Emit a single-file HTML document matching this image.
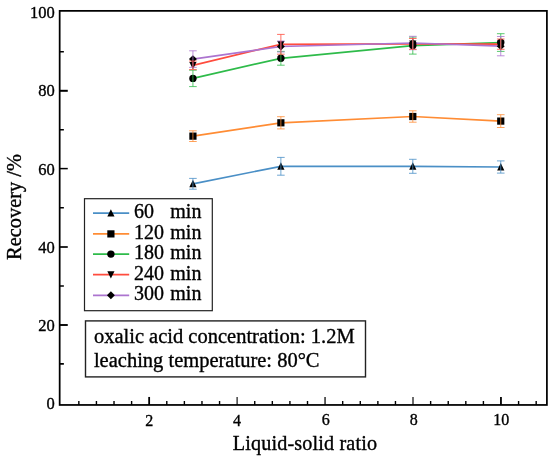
<!DOCTYPE html>
<html lang="en"><head><meta charset="utf-8"><title>Recovery vs liquid-solid ratio</title>
<style>
html,body{margin:0;padding:0;background:#fff;}
body{width:550px;height:458px;overflow:hidden;}
svg{display:block;}
text{font-family:"Liberation Serif","Times New Roman",Times,serif;fill:#000;stroke:#000;stroke-width:0.35px;}
.tk{font-size:16.5px;}
.lb{font-size:20px;}
.an{font-size:20.5px;}
</style></head><body>
<svg width="550" height="458" viewBox="0 0 550 458">
<rect x="0" y="0" width="550" height="458" fill="#fff"/>
<g fill="none" stroke-width="1.7" stroke-linejoin="round">
<polyline points="192.93,183.80 280.88,166.30 412.80,166.30 500.75,167.00" stroke="#4a8fc6"/>
<polyline points="192.93,136.15 280.88,122.80 412.80,116.50 500.75,121.10" stroke="#ff8c34"/>
<polyline points="192.93,78.40 280.88,58.30 412.80,45.60 500.75,42.55" stroke="#2ebb4a"/>
<polyline points="192.93,65.30 280.88,44.30 412.80,43.90 500.75,44.15" stroke="#ff4c3e"/>
<polyline points="192.93,59.10 280.88,46.50 412.80,43.00 500.75,46.15" stroke="#ac74cf"/>
</g>
<g>
<polygon points="192.93,179.80 196.53,187.20 189.33,187.20" fill="#000"/>
<polygon points="280.88,162.30 284.48,169.70 277.27,169.70" fill="#000"/>
<polygon points="412.80,162.30 416.40,169.70 409.20,169.70" fill="#000"/>
<polygon points="500.75,163.00 504.35,170.40 497.15,170.40" fill="#000"/>
<rect x="189.33" y="132.55" width="7.20" height="7.20" fill="#000"/>
<rect x="277.27" y="119.20" width="7.20" height="7.20" fill="#000"/>
<rect x="409.20" y="112.90" width="7.20" height="7.20" fill="#000"/>
<rect x="497.15" y="117.50" width="7.20" height="7.20" fill="#000"/>
<circle cx="192.93" cy="78.40" r="3.70" fill="#000"/>
<circle cx="280.88" cy="58.30" r="3.70" fill="#000"/>
<circle cx="412.80" cy="45.60" r="3.70" fill="#000"/>
<circle cx="500.75" cy="42.55" r="3.70" fill="#000"/>
<polygon points="192.93,69.30 196.53,61.90 189.33,61.90" fill="#000"/>
<polygon points="280.88,48.30 284.48,40.90 277.27,40.90" fill="#000"/>
<polygon points="412.80,47.90 416.40,40.50 409.20,40.50" fill="#000"/>
<polygon points="500.75,48.15 504.35,40.75 497.15,40.75" fill="#000"/>
<polygon points="192.93,55.15 196.88,59.10 192.93,63.05 188.98,59.10" fill="#000"/>
<polygon points="280.88,42.55 284.82,46.50 280.88,50.45 276.93,46.50" fill="#000"/>
<polygon points="412.80,39.05 416.75,43.00 412.80,46.95 408.85,43.00" fill="#000"/>
<polygon points="500.75,42.20 504.70,46.15 500.75,50.10 496.80,46.15" fill="#000"/>
</g>
<g fill="none" stroke-width="0.8">
<path d="M192.93,178.40V189.20M189.12,178.40H196.73M189.12,189.20H196.73M280.88,157.40V175.20M277.07,157.40H284.68M277.07,175.20H284.68M412.80,159.30V173.30M409.00,159.30H416.60M409.00,173.30H416.60M500.75,160.90V173.10M496.95,160.90H504.55M496.95,173.10H504.55" stroke="#4a8fc6"/>
<path d="M192.93,130.80V141.50M189.12,130.80H196.73M189.12,141.50H196.73M280.88,116.70V128.90M277.07,116.70H284.68M277.07,128.90H284.68M412.80,110.80V122.20M409.00,110.80H416.60M409.00,122.20H416.60M500.75,114.70V127.50M496.95,114.70H504.55M496.95,127.50H504.55" stroke="#ff8c34"/>
<path d="M192.93,70.20V86.60M189.12,70.20H196.73M189.12,86.60H196.73M280.88,51.40V65.20M277.07,51.40H284.68M277.07,65.20H284.68M412.80,37.10V54.10M409.00,37.10H416.60M409.00,54.10H416.60M500.75,33.70V51.40M496.95,33.70H504.55M496.95,51.40H504.55" stroke="#2ebb4a"/>
<path d="M192.93,50.80V67.40M189.12,50.80H196.73M189.12,67.40H196.73M280.88,41.00V52.00M277.07,41.00H284.68M277.07,52.00H284.68M412.80,36.30V49.70M409.00,36.30H416.60M409.00,49.70H416.60M500.75,36.50V55.80M496.95,36.50H504.55M496.95,55.80H504.55" stroke="#ac74cf"/>
<path d="M192.93,61.00V69.60M189.12,61.00H196.73M189.12,69.60H196.73M280.88,34.40V54.20M277.07,34.40H284.68M277.07,54.20H284.68M412.80,38.50V49.30M409.00,38.50H416.60M409.00,49.30H416.60M500.75,39.00V49.30M496.95,39.00H504.55M496.95,49.30H504.55" stroke="#ff4c3e"/>
</g>
<rect x="59.67" y="10.87" width="487.23" height="394.08" fill="none" stroke="#000" stroke-width="1.75"/>
<path d="M78.84,404.95V400.95M96.43,404.95V400.95M114.02,404.95V400.95M131.61,404.95V400.95M166.79,404.95V400.95M184.38,404.95V400.95M201.97,404.95V400.95M219.56,404.95V400.95M254.74,404.95V400.95M272.33,404.95V400.95M289.92,404.95V400.95M307.51,404.95V400.95M342.69,404.95V400.95M360.28,404.95V400.95M377.87,404.95V400.95M395.46,404.95V400.95M430.64,404.95V400.95M448.23,404.95V400.95M465.82,404.95V400.95M483.41,404.95V400.95M518.59,404.95V400.95M536.18,404.95V400.95" stroke="#000" stroke-width="1.4" fill="none"/>
<path d="M149.15,404.95V396.95" stroke="#000" stroke-width="1.8" fill="none"/>
<path d="M237.10,404.95V396.95" stroke="#000" stroke-width="1.1" fill="none"/>
<path d="M325.05,404.95V396.95" stroke="#000" stroke-width="1.25" fill="none"/>
<path d="M413.00,404.95V396.95" stroke="#000" stroke-width="1.15" fill="none"/>
<path d="M500.95,404.95V396.95" stroke="#000" stroke-width="1.8" fill="none"/>
<path d="M59.67,363.90H63.87M59.67,286.00H63.87M59.67,207.80H63.87M59.67,129.70H63.87M59.67,51.80H63.87" stroke="#000" stroke-width="1.6" fill="none"/>
<path d="M59.67,325.00H67.77" stroke="#000" stroke-width="1.9" fill="none"/>
<path d="M59.67,247.00H67.77" stroke="#000" stroke-width="1.7" fill="none"/>
<path d="M59.67,168.60H67.77" stroke="#000" stroke-width="1.5" fill="none"/>
<path d="M59.67,90.80H67.77" stroke="#000" stroke-width="2.0" fill="none"/>
<text class="tk" x="54.7" y="409.05" text-anchor="end">0</text>
<text class="tk" x="54.7" y="330.80" text-anchor="end">20</text>
<text class="tk" x="54.7" y="252.50" text-anchor="end">40</text>
<text class="tk" x="54.7" y="174.70" text-anchor="end">60</text>
<text class="tk" x="54.7" y="96.30" text-anchor="end">80</text>
<text class="tk" x="54.7" y="18.30" text-anchor="end">100</text>
<text class="tk" style="font-size:16px" x="149.15" y="425.50" text-anchor="middle">2</text>
<text class="tk" style="font-size:16px" x="237.10" y="425.50" text-anchor="middle">4</text>
<text class="tk" style="font-size:16px" x="325.75" y="425.00" text-anchor="middle">6</text>
<text class="tk" style="font-size:16px" x="413.70" y="425.20" text-anchor="middle">8</text>
<text class="tk" style="font-size:16px" x="501.25" y="425.20" text-anchor="middle">10</text>
<text class="lb" style="font-size:20.2px;letter-spacing:0.14px" x="232.75" y="450.0">Liquid-solid ratio</text>
<text class="lb" style="font-size:20.4px" transform="translate(20.5,207.0) rotate(-90)" text-anchor="middle">Recovery /%</text>
<rect x="84.5" y="198.7" width="127.8" height="112.0" fill="#fff" stroke="#222" stroke-width="1.2"/>
<line x1="93" y1="213.2" x2="129.2" y2="213.2" stroke="#4a8fc6" stroke-width="1.7"/>
<polygon points="110.90,209.20 114.50,216.60 107.30,216.60" fill="#000"/>
<text class="lb" x="134.1" y="218.10">60</text>
<text class="lb" x="170.3" y="218.10">min</text>
<line x1="93" y1="233.9" x2="129.2" y2="233.9" stroke="#ff8c34" stroke-width="1.7"/>
<rect x="107.30" y="230.30" width="7.20" height="7.20" fill="#000"/>
<text class="lb" x="134.1" y="238.80">120</text>
<text class="lb" x="170.3" y="238.80">min</text>
<line x1="93" y1="254.1" x2="129.2" y2="254.1" stroke="#2ebb4a" stroke-width="1.7"/>
<circle cx="110.90" cy="254.10" r="3.70" fill="#000"/>
<text class="lb" x="134.1" y="259.40">180</text>
<text class="lb" x="170.3" y="259.40">min</text>
<line x1="93" y1="274.55" x2="129.2" y2="274.55" stroke="#ff4c3e" stroke-width="1.7"/>
<polygon points="110.90,278.55 114.50,271.15 107.30,271.15" fill="#000"/>
<text class="lb" x="134.1" y="279.50">240</text>
<text class="lb" x="170.3" y="279.50">min</text>
<line x1="93" y1="295.3" x2="129.2" y2="295.3" stroke="#ac74cf" stroke-width="1.7"/>
<polygon points="110.90,291.35 114.85,295.30 110.90,299.25 106.95,295.30" fill="#000"/>
<text class="lb" x="134.1" y="300.20">300</text>
<text class="lb" x="170.3" y="300.20">min</text>
<rect x="85.5" y="320.9" width="280.0" height="56.0" fill="#fff" stroke="#222" stroke-width="1.4"/>
<text class="an" x="93.9" y="343.4">oxalic acid concentration: 1.2M</text>
<text class="an" x="93.9" y="367.0">leaching temperature: 80°C</text>
</svg>
</body></html>
